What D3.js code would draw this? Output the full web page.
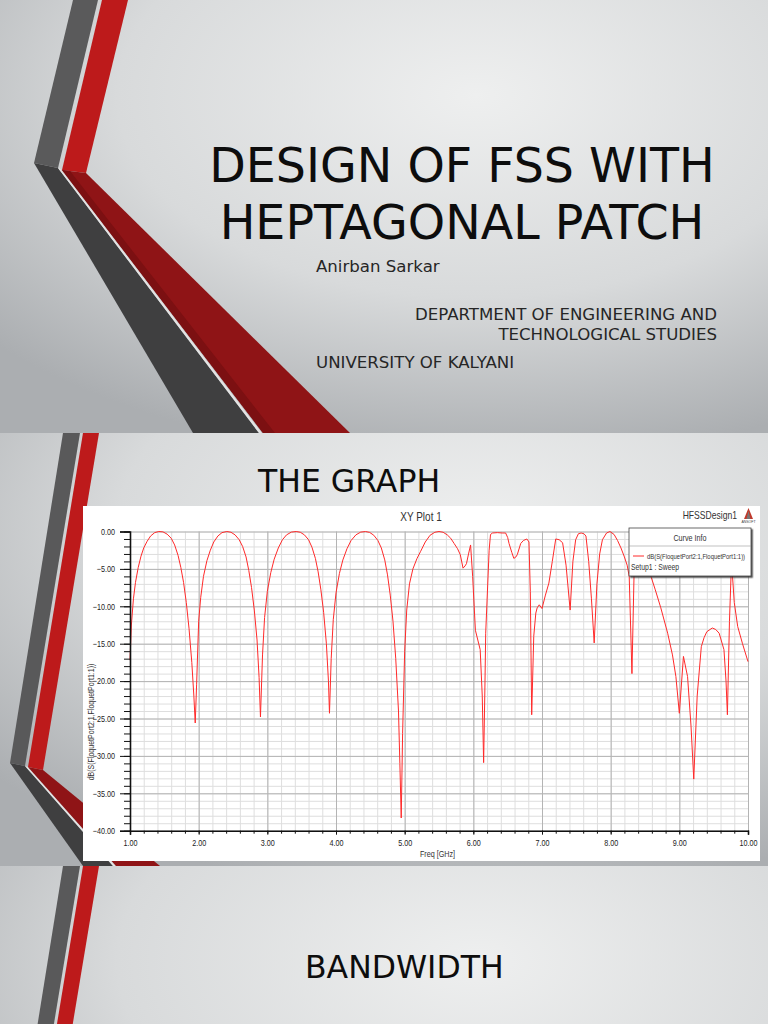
<!DOCTYPE html>
<html>
<head>
<meta charset="utf-8">
<script src="https://cdn.jsdelivr.net/npm/d3@7"></script>
<style>
  html, body { margin: 0; padding: 0; background: #d0d2d4; }
  svg { display: block; }
</style>
</head>
<body>
<svg id="page"></svg>
<script>
// slide texts
var titleLines = ['DESIGN OF FSS WITH', 'HEPTAGONAL PATCH'];
var authorName = 'Anirban Sarkar';
var deptLines = ['DEPARTMENT OF ENGINEERING AND', 'TECHNOLOGICAL STUDIES'];
var universityName = 'UNIVERSITY OF KALYANI';
var graphTitle = 'THE GRAPH';
var nextTitle = 'BANDWIDTH';

// chart data (freq in GHz, S21 in dB)
var freqGHz = [
  1.00, 1.02, 1.05, 1.08, 1.12, 1.16, 1.20, 1.25, 1.30, 1.36, 1.42, 1.48, 1.54, 1.60, 1.65, 1.70, 1.74, 1.78, 1.82, 1.86, 1.90, 1.93, 1.95,
  1.97, 2.00, 2.03, 2.07, 2.12, 2.17, 2.22, 2.28, 2.34, 2.41, 2.47, 2.53, 2.59, 2.64, 2.69, 2.73, 2.77, 2.81, 2.85, 2.88, 2.90,
  2.93, 2.96, 3.00, 3.05, 3.10, 3.16, 3.22, 3.28, 3.35, 3.42, 3.48, 3.54, 3.60, 3.65, 3.70, 3.74, 3.78, 3.82, 3.86, 3.89, 3.905,
  3.93, 3.96, 4.00, 4.05, 4.10, 4.16, 4.22, 4.29, 4.36, 4.43, 4.49, 4.55, 4.61, 4.66, 4.71, 4.75, 4.79, 4.83, 4.87, 4.91, 4.93, 4.95,
  4.97, 5.00, 5.03, 5.07, 5.12, 5.18, 5.23, 5.30, 5.37, 5.44, 5.50, 5.56, 5.62, 5.67, 5.72, 5.77, 5.81, 5.85, 5.88, 5.90, 5.93, 5.96,
  5.99, 6.03, 6.10, 6.13, 6.15, 6.17, 6.18, 6.23, 6.25, 6.28, 6.35, 6.42, 6.47, 6.50, 6.52, 6.56, 6.59, 6.62, 6.64, 6.67, 6.69, 6.73,
  6.78, 6.81, 6.83, 6.85, 6.88, 6.91, 6.93, 6.96, 7.00, 7.05, 7.10, 7.15, 7.20, 7.25, 7.30, 7.35, 7.41, 7.45, 7.49, 7.53, 7.57, 7.61,
  7.64, 7.68, 7.72, 7.76, 7.80, 7.84, 7.88, 7.94, 7.99, 8.05, 8.10, 8.15, 8.20, 8.24, 8.27, 8.31, 8.34, 8.42, 8.50, 8.59, 8.65, 8.73,
  8.83, 8.90, 8.95, 9.00, 9.06, 9.12, 9.17, 9.21, 9.26, 9.32, 9.36, 9.40, 9.48, 9.53, 9.58, 9.65, 9.68, 9.70, 9.73, 9.76, 9.80, 9.85,
  9.92, 10.00
];
var s21dB = [
  -17.2, -12.5, -9.0, -6.8, -4.8, -3.3, -2.2, -1.3, -0.6, -0.15, 0.0, -0.05, -0.35, -0.9, -1.8, -3.2, -4.8, -6.8, -9.5, -13.0, -17.5, -22.0, -25.6,
  -20.5, -12.0, -8.8, -6.0, -3.9, -2.5, -1.4, -0.6, -0.15, 0.0, -0.1, -0.45, -1.1, -2.0, -3.4, -5.2, -7.5, -10.5, -14.5, -19.5, -24.8,
  -16.5, -11.5, -8.0, -5.5, -3.7, -2.2, -1.1, -0.45, -0.08, 0.0, -0.1, -0.45, -1.1, -2.1, -3.6, -5.4, -7.8, -10.8, -15.0, -20.0, -24.3,
  -17.0, -11.8, -8.2, -5.6, -3.8, -2.3, -1.2, -0.45, -0.08, 0.0, -0.12, -0.5, -1.2, -2.2, -3.8, -5.8, -8.5, -12.0, -17.0, -24.0, -31.0, -38.3,
  -27.0, -16.0, -10.5, -7.0, -5.0, -3.6, -2.7, -1.4, -0.5, -0.1, 0.0, -0.1, -0.45, -0.9, -1.6, -2.3, -3.1, -4.9, -4.6, -4.3, -3.0, -1.8,
  -6.0, -13.2, -15.8, -22.0, -30.9, -20.0, -13.6, -2.5, -0.4, -0.2, -0.15, -0.2, -0.2, -0.8, -1.6, -2.8, -3.6, -3.4, -3.1, -2.2, -1.6, -1.2,
  -1.0, -1.4, -8.0, -24.5, -14.0, -10.9, -10.2, -9.8, -10.3, -8.5, -6.9, -4.0, -1.0, -1.1, -1.5, -4.5, -10.5, -4.0, -1.1, -0.3, -0.2, -0.3,
  -0.6, -4.0, -9.0, -14.9, -7.0, -3.0, -1.1, -0.2, 0.0, -0.4, -1.2, -2.2, -3.4, -4.5, -6.0, -19.0, -6.0, -3.0, -3.6, -6.1, -7.8, -10.2,
  -13.6, -16.5, -19.4, -24.3, -16.7, -19.4, -26.0, -33.1, -22.0, -15.4, -14.2, -13.4, -12.9, -13.1, -13.6, -15.8, -20.0, -24.5, -12.0, -4.0, -9.5, -12.7,
  -15.0, -17.4
];

var xMajor = [1, 2, 3, 4, 5, 6, 7, 8, 9, 10];
var yMajor = [0, -5, -10, -15, -20, -25, -30, -35, -40];

var width = 768;
var height = 1024;
var slideH = 433;
// no narrow font installed, so Liberation Sans gets squeezed (see squeeze())
var narrow = "'Liberation Sans', Arial, sans-serif";
var sans = "'DejaVu Sans', Verdana, sans-serif";

// squash text horizontally to look like Arial Narrow
function squeeze(sel, k) {
  sel.each(function() {
    var w = this.getComputedTextLength();
    d3.select(this)
      .attr('textLength', w * k)
      .attr('lengthAdjust', 'spacingAndGlyphs');
  });
}

var svg = d3.select('#page')
  .attr('width', width)
  .attr('height', height);

var defs = svg.append('defs');
var bg = defs.append('radialGradient')
  .attr('id', 'slideBg')
  .attr('cx', '62%').attr('cy', '22%').attr('r', '85%');
bg.append('stop').attr('offset', '0%').attr('stop-color', '#eeefef');
bg.append('stop').attr('offset', '55%').attr('stop-color', '#d8dadb');
bg.append('stop').attr('offset', '100%').attr('stop-color', '#abaeb1');

var shadow = defs.append('filter').attr('id', 'legShadow');
shadow.append('feDropShadow')
  .attr('dx', 1.5).attr('dy', 1.5).attr('stdDeviation', 0.6)
  .attr('flood-color', '#333').attr('flood-opacity', 0.8);

// three slides stacked
[0, slideH, slideH * 2].forEach(function(top) {
  svg.append('rect')
    .attr('x', 0).attr('y', top)
    .attr('width', width).attr('height', slideH)
    .attr('fill', 'url(#slideBg)');
});

function poly(pts, fill, dy) {
  svg.append('polygon')
    .attr('points', pts.map(function(p) { return p[0] + ',' + (p[1] + dy); }).join(' '))
    .attr('fill', fill);
}

// ----- slide 1 decoration
poly([[73, 0], [98, 0], [58, 168], [34, 163]], '#5a5a5b', 0);
poly([[34, 163], [58, 168], [259, 433], [193, 433]], '#3f3f40', 0);
poly([[58, 168], [60, 168.5], [262, 433], [259, 433]], '#e4e4e4', 0);
poly([[102, 0], [128, 0], [86, 173], [62, 170]], '#bd1a1b', 0);
poly([[62, 170], [86, 173], [350, 433], [263, 433]], '#8f1416', 0);
poly([[62, 170], [70, 171], [275, 433], [263, 433]], '#7c1012', 0);

// ----- slide 2 and 3 decoration
[slideH, slideH * 2].forEach(function(dy) {
  poly([[63, 0], [80, 0], [25, 333], [10, 330]], '#59595a', dy);
  poly([[83, 0], [99, 0], [43, 337], [28, 334]], '#bd1a1b', dy);
  poly([[10, 330], [25, 333], [113, 433], [83, 433]], '#3f3f40', dy);
  poly([[25, 333], [28, 334], [116, 433], [113, 433]], '#e4e4e4', dy);
  poly([[28, 334], [43, 337], [160, 433], [116, 433]], '#8f1416', dy);
});

// ----- slide 1 text
svg.selectAll('.title')
  .data(titleLines)
  .enter()
  .append('text')
    .attr('class', 'title')
    .attr('x', 462)
    .attr('y', (d, i) => 182 + i * 57)
    .attr('text-anchor', 'middle')
    .style('font-family', sans)
    .style('font-size', '47.5px')
    .style('fill', '#0d0d0d')
    .text(d => d);

svg.append('text')
  .attr('x', 316).attr('y', 272)
  .style('font-family', sans).style('font-size', '16.6px').style('fill', '#262626')
  .text(authorName);

svg.selectAll('.dept')
  .data(deptLines)
  .enter()
  .append('text')
    .attr('class', 'dept')
    .attr('x', 717)
    .attr('y', (d, i) => 320 + i * 20)
    .attr('text-anchor', 'end')
    .style('font-family', sans).style('font-size', '16.6px').style('fill', '#262626')
    .text(d => d);

svg.append('text')
  .attr('x', 316).attr('y', 368)
  .style('font-family', sans).style('font-size', '16.6px').style('fill', '#262626')
  .text(universityName);

// ----- slide 2 title
svg.append('text')
  .attr('x', 258).attr('y', 492)
  .style('font-family', sans).style('font-size', '31.5px').style('fill', '#0d0d0d')
  .text(graphTitle);

// ----- slide 3 title
svg.append('text')
  .attr('x', 305).attr('y', 978)
  .style('font-family', sans).style('font-size', '31.5px').style('fill', '#0d0d0d')
  .text(nextTitle);

// ----- HFSS chart panel
var panel = { left: 83, top: 506, right: 760, bottom: 861 };
svg.append('rect')
  .attr('x', panel.left).attr('y', panel.top)
  .attr('width', panel.right - panel.left).attr('height', panel.bottom - panel.top)
  .attr('fill', '#ffffff');

var plot = { left: 130, right: 748, top: 531.5, bottom: 830.7 };

var xScale = d3.scaleLinear()
  .domain([1, 10])
  .range([plot.left, plot.right]);

var yScale = d3.scaleLinear()
  .domain([-40, 0])
  .range([plot.bottom, plot.top]);

var xMinor = d3.range(1, 10.001, 0.2).map(d => +d.toFixed(1));
var yMinor = d3.range(-40, 0.001, 1);

// minor grid
svg.append('g')
  .attr('transform', 'translate(0,' + plot.bottom + ')')
  .call(d3.axisBottom(xScale).tickValues(xMinor).tickSize(-(plot.bottom - plot.top)).tickFormat(''))
  .call(g => g.select('.domain').remove())
  .call(g => g.selectAll('line').attr('stroke', '#dedede'));
svg.append('g')
  .attr('transform', 'translate(' + plot.left + ',0)')
  .call(d3.axisLeft(yScale).tickValues(yMinor).tickSize(-(plot.right - plot.left)).tickFormat(''))
  .call(g => g.select('.domain').remove())
  .call(g => g.selectAll('line').attr('stroke', '#dedede'));

// major grid
svg.append('g')
  .attr('transform', 'translate(0,' + plot.bottom + ')')
  .call(d3.axisBottom(xScale).tickValues(xMajor).tickSize(-(plot.bottom - plot.top)).tickFormat(''))
  .call(g => g.select('.domain').remove())
  .call(g => g.selectAll('line').attr('stroke', '#b4b4b4'));
svg.append('g')
  .attr('transform', 'translate(' + plot.left + ',0)')
  .call(d3.axisLeft(yScale).tickValues(yMajor).tickSize(-(plot.right - plot.left)).tickFormat(''))
  .call(g => g.select('.domain').remove())
  .call(g => g.selectAll('line').attr('stroke', '#b4b4b4'));

// curve
var line = d3.line()
  .x(d => xScale(d[0]))
  .y(d => yScale(d[1]));

svg.append('path')
  .datum(freqGHz.map((f, i) => [f, s21dB[i]]))
  .attr('d', line)
  .attr('fill', 'none')
  .attr('stroke', '#ff2a2a')
  .attr('stroke-width', 1)
  .attr('stroke-linejoin', 'round');

// axes: minor ticks then major ticks with labels
svg.append('g')
  .attr('transform', 'translate(' + plot.left + ',0)')
  .call(d3.axisLeft(yScale).tickValues(yMinor).tickSize(6).tickFormat(''))
  .call(g => g.selectAll('line').attr('stroke', '#111'))
  .call(g => g.select('.domain').remove());
svg.append('g')
  .attr('transform', 'translate(0,' + plot.bottom + ')')
  .call(d3.axisBottom(xScale).tickValues(xMinor).tickSize(3).tickFormat(''))
  .call(g => g.selectAll('line').attr('stroke', '#111'))
  .call(g => g.select('.domain').remove());

var yAxis = d3.axisLeft(yScale)
  .tickValues(yMajor)
  .tickSize(10)
  .tickPadding(4)
  .tickFormat(d3.format('.2f'));

svg.append('g')
  .attr('transform', 'translate(' + plot.left + ',0)')
  .call(yAxis)
  .call(g => g.select('.domain').attr('stroke', '#111').attr('stroke-width', 1.6))
  .call(g => g.selectAll('line').attr('stroke', '#111'))
  .selectAll('text')
    .style('font-family', narrow)
    .style('font-size', '9px')
    .style('fill', '#222')
    .attr('x', -15)
    .call(squeeze, 0.8);

var xAxis = d3.axisBottom(xScale)
  .tickValues(xMajor)
  .tickSize(4)
  .tickPadding(5)
  .tickFormat(d3.format('.2f'));

svg.append('g')
  .attr('transform', 'translate(0,' + plot.bottom + ')')
  .call(xAxis)
  .call(g => g.select('.domain').attr('stroke', '#111').attr('stroke-width', 1.6))
  .call(g => g.selectAll('line').attr('stroke', '#111'))
  .selectAll('text')
    .style('font-family', narrow)
    .style('font-size', '9px')
    .style('fill', '#222')
    .call(squeeze, 0.8);

// chart texts
svg.append('text')
  .attr('x', 421).attr('y', 521)
  .attr('text-anchor', 'middle')
  .style('font-family', narrow).style('font-size', '12.5px').style('fill', '#333')
  .text('XY Plot 1')
  .call(squeeze, 0.8);

svg.append('text')
  .attr('x', 737).attr('y', 519)
  .attr('text-anchor', 'end')
  .style('font-family', narrow).style('font-size', '11px').style('fill', '#333')
  .text('HFSSDesign1')
  .call(squeeze, 0.78);

// small ansoft logo
svg.append('polygon')
  .attr('points', '748.5,508 744,519 753,519')
  .attr('fill', '#c0392b');
svg.append('polygon')
  .attr('points', '748.5,511 746.5,519 750.5,519')
  .attr('fill', '#777');
svg.append('text')
  .attr('x', 748.5).attr('y', 523)
  .attr('text-anchor', 'middle')
  .style('font-family', narrow).style('font-size', '3.5px').style('fill', '#444')
  .text('ANSOFT');

svg.append('text')
  .attr('x', 437.5).attr('y', 857)
  .attr('text-anchor', 'middle')
  .style('font-family', narrow).style('font-size', '9px').style('fill', '#333')
  .text('Freq [GHz]')
  .call(squeeze, 0.8);

svg.append('text')
  .attr('transform', 'translate(94,722) rotate(-90)')
  .attr('text-anchor', 'middle')
  .style('font-family', narrow).style('font-size', '9px').style('fill', '#333')
  .text('dB(S(FloquetPort2:1,FloquetPort1:1))')
  .call(squeeze, 0.78);

// legend
var leg = svg.append('g');
leg.append('rect')
  .attr('x', 629).attr('y', 528)
  .attr('width', 122).attr('height', 48)
  .attr('fill', '#fff')
  .attr('stroke', '#444')
  .attr('stroke-width', 0.8)
  .attr('filter', 'url(#legShadow)');
leg.append('line')
  .attr('x1', 629).attr('x2', 751)
  .attr('y1', 546).attr('y2', 546)
  .attr('stroke', '#999').attr('stroke-width', 0.6);
leg.append('text')
  .attr('x', 690).attr('y', 541)
  .attr('text-anchor', 'middle')
  .style('font-family', narrow).style('font-size', '9px').style('fill', '#333')
  .text('Curve Info')
  .call(squeeze, 0.8);
leg.append('line')
  .attr('x1', 633).attr('x2', 644)
  .attr('y1', 556).attr('y2', 556)
  .attr('stroke', '#ff2a2a').attr('stroke-width', 1);
// scaled with a transform so the box really holds it
leg.append('text')
  .attr('transform', 'translate(647,559) scale(0.74,1)')
  .style('font-family', narrow).style('font-size', '8px').style('fill', '#333')
  .text('dB(S(FloquetPort2:1,FloquetPort1:1))');
leg.append('text')
  .attr('x', 631).attr('y', 570)
  .style('font-family', narrow).style('font-size', '8.5px').style('fill', '#333')
  .text('Setup1 : Sweep')
  .call(squeeze, 0.8);
</script>
</body>
</html>
